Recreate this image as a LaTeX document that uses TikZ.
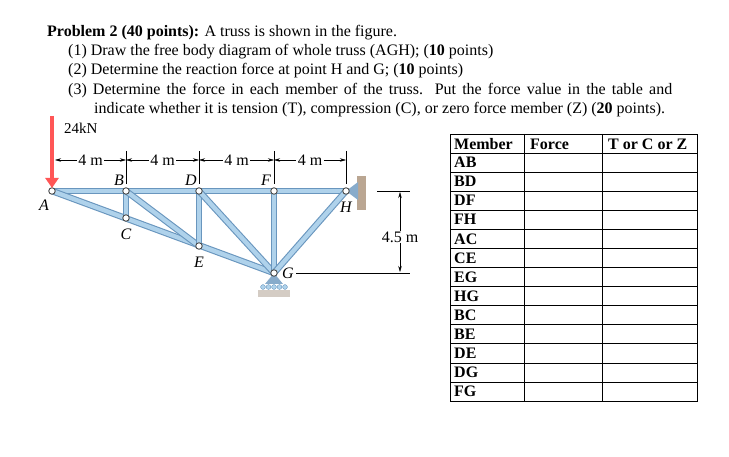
\documentclass[tikz,border=0pt]{standalone}
\usepackage{fontspec}
\setmainfont{Liberation Serif}
\usetikzlibrary{arrows.meta}
\definecolor{barout}{RGB}{105,150,190}
\definecolor{barfill}{RGB}{175,210,235}
\begin{document}
\begin{tikzpicture}[x=1pt,y=-1pt,
  txt/.style={anchor=west,inner sep=0,font=\fontsize{16}{18}\selectfont},
  lab/.style={font=\fontsize{16}{18}\selectfont\itshape,inner sep=0},
  dimt/.style={font=\fontsize{16}{18}\selectfont,inner sep=0,fill=white,inner xsep=1.5},
  bar/.style={line width=6.5,draw=barout,line cap=round},
  barin/.style={line width=4.3,draw=barfill},
  joint/.style={circle,draw=gray!60!black,fill=white,line width=0.9,minimum size=6.5,inner sep=0},
  dim/.style={line width=0.5,-{Stealth[length=6,width=3.5]}},
  cell/.style={font=\fontsize{16}{18}\selectfont\bfseries,anchor=west,inner sep=0}]
\useasboundingbox (0,0) rectangle (729,457);
\node[txt] (t1) at (47,33) {\textbf{Problem 2 (40 points):} A truss is shown in the figure.};
\node[txt] (t2) at (68,52) {(1) Draw the free body diagram of whole truss (AGH); (\textbf{10} points)};
\node[txt] (t3) at (68,71) {(2) Determine the reaction force at point H and G; (\textbf{10} points)};
\node[txt] (t4) at (68,91) {\makebox[604pt][s]{(3) Determine the force in each member of the truss. Put the force value in the table and}};
\node[txt] (t5) at (94,110) {indicate whether it is tension (T), compression (C), or zero force member (Z) (\textbf{20} points).};
% joints coordinates
\coordinate (A) at (52,191);
\coordinate (B) at (126,191);
\coordinate (D) at (199,191);
\coordinate (F) at (274,191);
\coordinate (H) at (346,191);
\coordinate (C) at (126,218);
\coordinate (E) at (199,246);
\coordinate (G) at (274,273);
% supports
\fill[brown!45!gray!70] (357,176) rectangle (366,210);
\fill[barout!80] (H) -- (358,182) -- (358,200) -- cycle;
\fill[brown!30!gray!40] (258,290) rectangle (290,297);
\fill[barout!80] (G) -- (265,284) -- (283,284) -- cycle;
\foreach \i in {0,...,4} \draw[fill=barfill,draw=barout] (263+\i*5.5,287) circle (2.4);
% members
\foreach \p/\q in {A/H,A/G,B/C,B/E,D/E,D/G,F/G,H/G}{\draw[bar] (\p)--(\q); \draw[barin] (\p)--(\q);}
\foreach \n in {A,B,C,D,E,F,G,H} \node[joint] (j\n) at (\n) {};
% labels
\node[lab] (lA) at (44,205) {A};
\node[lab] (lB) at (119,180) {B};
\node[lab] (lC) at (126,234) {C};
\node[lab] (lD) at (191,180) {D};
\node[lab] (lE) at (199,262) {E};
\node[lab] (lF) at (266,180) {F};
\node[lab] (lG) at (288,273) {G};
\node[lab] (lH) at (346,207) {H};
% load
\coordinate (L0) at (52,116);
\draw[line width=4,draw=red!55!pink,-{Triangle[length=10,width=13]}] (L0) -- (52,188);
\node[txt,font=\fontsize{15}{17}\selectfont] (load) at (64,128) {24kN};
% dimension lines
\foreach \x in {126,199,274,346} \draw[line width=0.5] (\x,151) -- (\x,184);
\foreach \a/\b in {55/126,126/199,199/274,274/346}{
  \node[dimt] (d\a) at ({(\a+\b)/2},160) {4 m};
  \draw[dim] (d\a.west) -- (\a,160);
  \draw[dim] (d\a.east) -- (\b,160);}
\draw[line width=0.5] (377,191) -- (410,191);
\draw[line width=0.5] (296,273) -- (410,273);
\node[dimt] (d45) at (400,237) {4.5 m};
\draw[dim] (d45.north) -- (400,192);
\draw[dim] (d45.south) -- (400,272);
% table
\draw[line width=0.7] (450,134) rectangle (697,401);
\draw[line width=0.7] (524,134) -- (524,401);
\draw[line width=0.7] (602,134) -- (602,401);
\foreach \i in {0,...,12} \draw[line width=0.7] (450,{153+\i*19.08}) -- (697,{153+\i*19.08});
\node[cell] (h1) at (454,144) {Member};
\node[cell] (h2) at (530,144) {Force};
\node[cell] (h3) at (608,144) {T or C or Z};
\foreach \m [count=\i from 0] in {AB,BD,DF,FH,AC,CE,EG,HG,BC,BE,DE,DG,FG}
  \node[cell] (r\m) at (454,{162.5+\i*19.08}) {\m};
\end{tikzpicture}
\end{document}
